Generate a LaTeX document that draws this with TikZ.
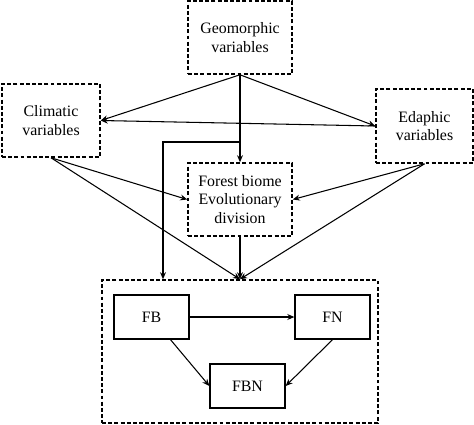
\documentclass[tikz,border=0pt]{standalone}
\usepackage{fontspec}
\setmainfont{Liberation Serif}
\usetikzlibrary{arrows.meta}

\begin{document}
\begin{tikzpicture}[x = 0.025cm, y = -0.025cm,
                      font = \fontsize{11.3}{13}\selectfont,
                      factor/.style = {draw, line width = 1.1pt, dash pattern = on 2.8pt off 1.6pt,
                                       align = center, inner sep = 0pt},
                      group/.style = {draw, line width = 0.9pt, inner sep = 0pt},
                      link/.style = {line width = 0.75pt, -{Stealth[length = 5pt, width = 4.2pt]}}]
    \useasboundingbox (0, 0) rectangle (474, 424);

    \node [factor, minimum width = 104*0.025cm, minimum height = 73*0.025cm] (geo) at (240, 37.5) {Geomorphic\\variables};
    \node [factor, minimum width = 98*0.025cm, minimum height = 73*0.025cm] (clim) at (51, 120.5) {Climatic\\variables};
    \node [factor, minimum width = 97*0.025cm, minimum height = 74*0.025cm] (eda) at (424.5, 126) {Edaphic\\variables};
    \node [factor, minimum width = 104*0.025cm, minimum height = 73*0.025cm] (forest) at (240, 199.5) {Forest biome\\Evolutionary\\division};
    \node [factor, minimum width = 276*0.025cm, minimum height = 143*0.025cm] (outer) at (240, 351.5) {};

    \node [group, minimum width = 75*0.025cm, minimum height = 44*0.025cm] (fb) at (151.5, 317) {FB};
    \node [group, minimum width = 75*0.025cm, minimum height = 44*0.025cm] (fn) at (332.5, 317) {FN};
    \node [group, minimum width = 75*0.025cm, minimum height = 44*0.025cm] (fbn) at (247.5, 386) {FBN};

    \coordinate (bend) at (163, 142);

    \draw [link] (geo.south) -- (clim.east);
    \draw [link] (geo.south) -- (eda.west);
    \draw [link, {Stealth[length = 5pt, width = 4.2pt]}-] (clim.east) -- (eda.west);
    \draw [link] (geo.south) -- (forest.north);
    \draw [link] (geo.south |- bend) -- (bend) -- (bend |- outer.north);

    \draw [link] (clim.south) -- (forest.west);
    \draw [link] (clim.south) -- (outer.north);
    \draw [link] (eda.south) -- (forest.east);
    \draw [link] (eda.south) -- (outer.north);
    \draw [link] (forest.south) -- (outer.north);

    \draw [link] (fb.east) -- (fn.west);
    \draw [link] (fb.-50) -- (fbn.west);
    \draw [link] (fn.south) -- (fbn.east);
\end{tikzpicture}
\end{document}
